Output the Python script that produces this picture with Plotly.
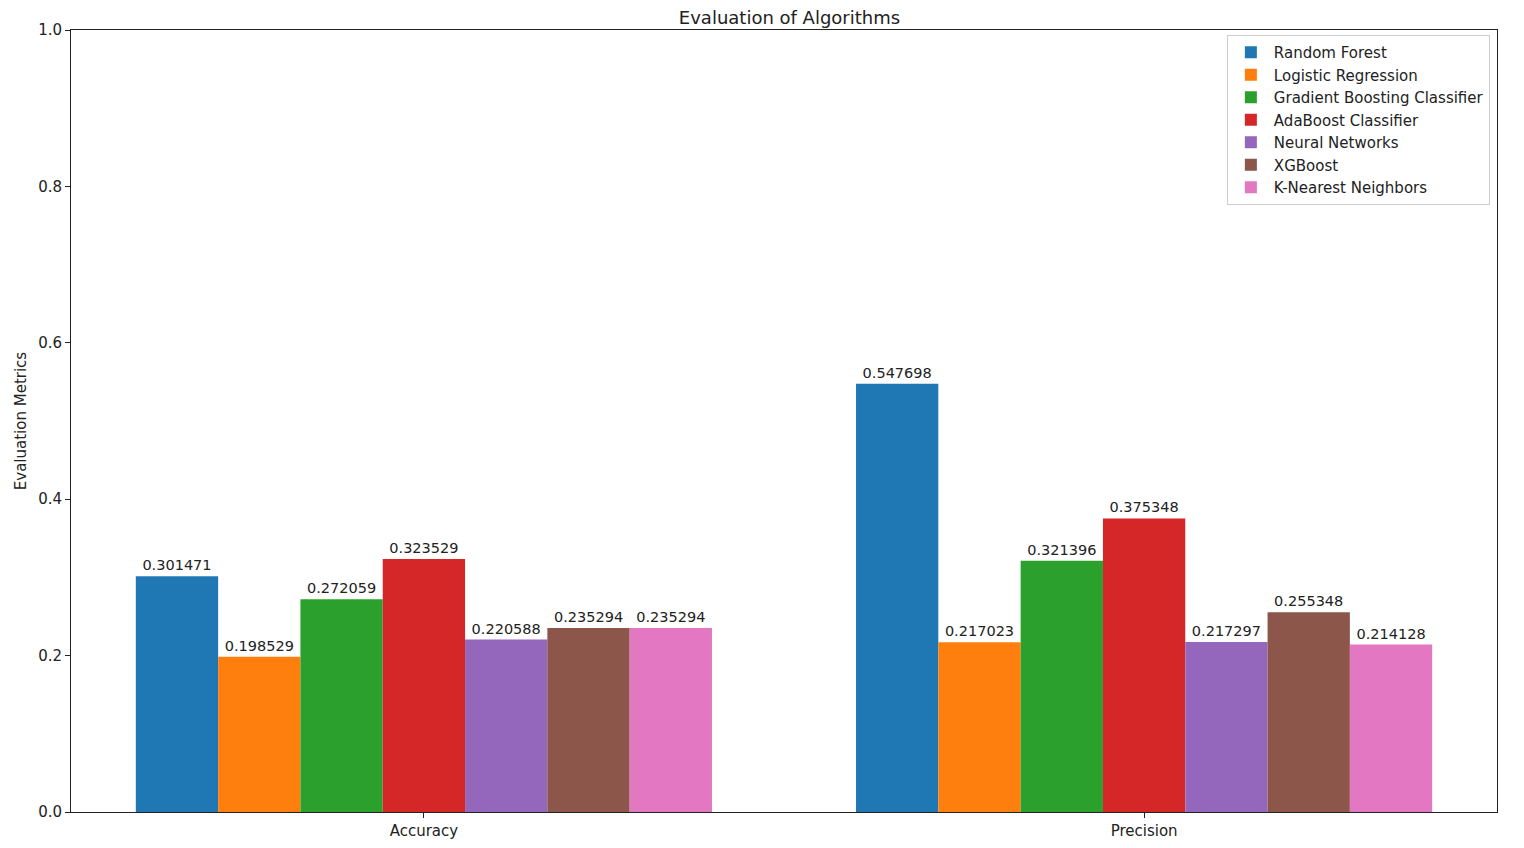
import plotly.graph_objects as go

metrics = ['Accuracy', 'Precision']
algorithms = ['Random Forest', 'Logistic Regression', 'Gradient Boosting Classifier',
              'AdaBoost Classifier', 'Neural Networks', 'XGBoost', 'K-Nearest Neighbors']
colors = ['#1f77b4', '#ff7f0e', '#2ca02c', '#d62728', '#9467bd', '#8c564b', '#e377c2']

accuracy = [0.301471, 0.198529, 0.272059, 0.323529, 0.220588, 0.235294, 0.235294]
precision = [0.547698, 0.217023, 0.321396, 0.375348, 0.217297, 0.255348, 0.214128]

font = 'DejaVu Sans'

fig = go.Figure()
for i, name in enumerate(algorithms):
    vals = [accuracy[i], precision[i]]
    fig.add_trace(go.Bar(
        x=metrics, y=vals, name=name,
        marker=dict(color=colors[i], line_width=0),
        text=['%g' % v for v in vals],
        textposition='outside', cliponaxis=False,
        textfont=dict(family=font, size=14.5, color='#222222'),
    ))

# page body adds 8px offset, so the figure is a bit smaller than the window
fig.update_layout(
    barmode='group', bargap=0.2, bargroupgap=0,
    width=1516, height=840,
    margin=dict(l=63, r=27, t=22, b=36),
    paper_bgcolor='white', plot_bgcolor='white',
    font=dict(family=font, size=15, color='#222222'),
    title=dict(text='Evaluation of Algorithms', x=0.5155, xanchor='center',
               y=0.989, yanchor='middle', font=dict(size=18)),
    showlegend=True,
    legend=dict(x=0.995, y=0.9936, xanchor='right', yanchor='top',
                bordercolor='#cccccc', borderwidth=1, bgcolor='white',
                font=dict(size=15), tracegroupgap=0, itemwidth=36),
    uniformtext=dict(minsize=14, mode='show'),
)
fig.update_xaxes(range=[-0.49, 1.49], showline=True, linecolor='#222222', linewidth=1,
                 mirror=True, ticks='outside', ticklen=5, tickcolor='#222222',
                 showgrid=False, tickfont=dict(size=15), automargin=False)
fig.update_yaxes(range=[0, 1], dtick=0.2, tickformat='.1f', showline=True,
                 linecolor='#222222', linewidth=1, mirror=True, ticks='outside',
                 ticklen=5, tickcolor='#222222', showgrid=False, zeroline=False,
                 tickfont=dict(size=15), automargin=False,
                 title=dict(text='Evaluation Metrics', standoff=7, font=dict(size=15)))

fig.write_html('out.html')
